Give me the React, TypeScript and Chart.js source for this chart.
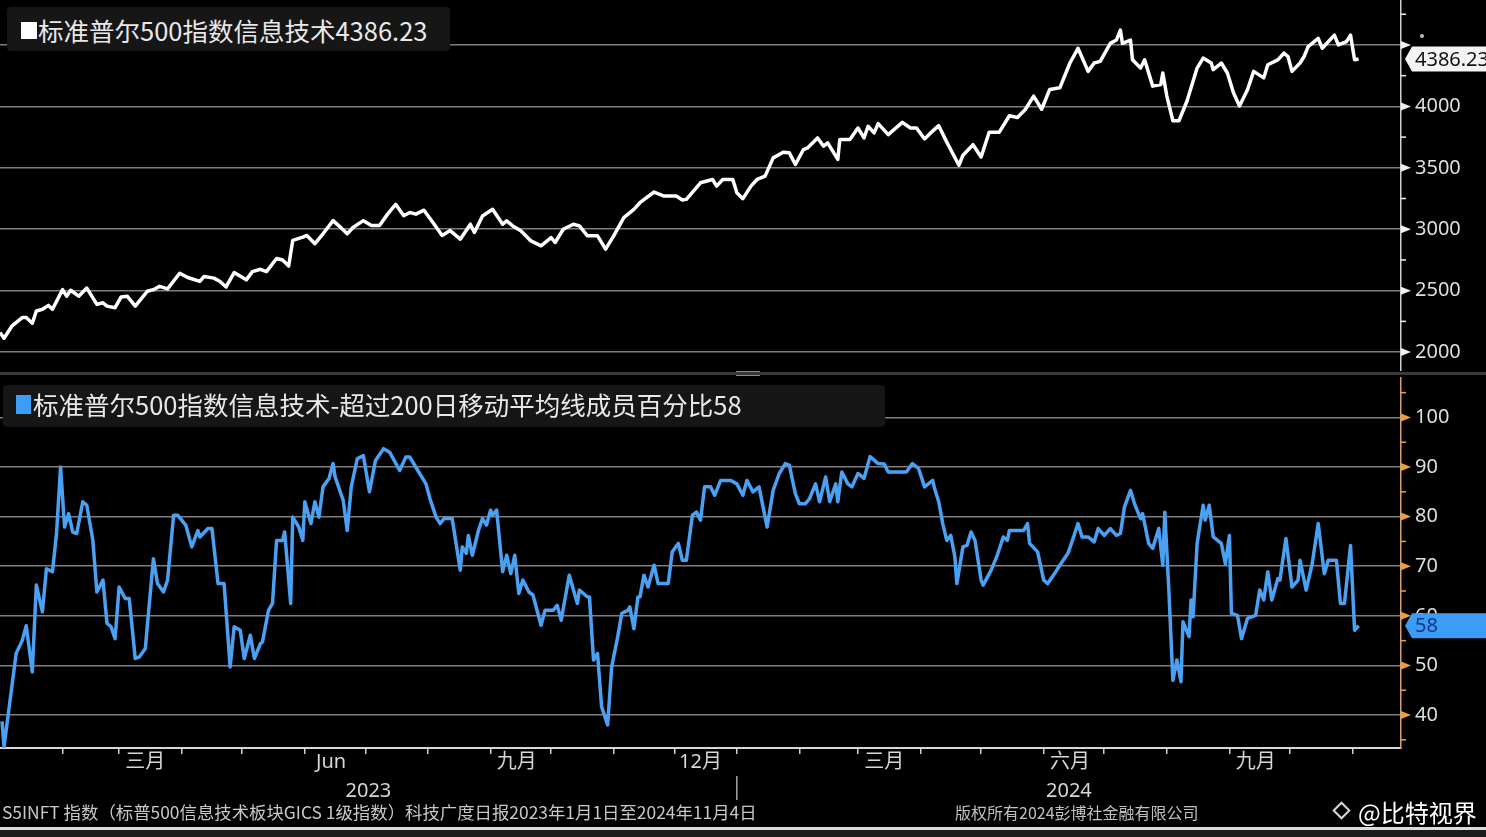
import React, { useEffect, useRef } from 'react';
import { Chart, registerables } from 'chart.js';

Chart.register(...registerables);

// ---------- texts ----------
const TOP_TITLE = '标准普尔500指数信息技术4386.23';
const BREADTH_TITLE = '标准普尔500指数信息技术-超过200日移动平均线成员百分比58';
const TOP_LAST_LABEL = '4386.23';
const BREADTH_LAST_LABEL = '58';
const FOOTER_LEFT = 'S5INFT 指数（标普500信息技术板块GICS 1级指数）科技广度日报2023年1月1日至2024年11月4日';
const FOOTER_RIGHT = '版权所有2024彭博社金融有限公司';
const WATERMARK = '@比特视界';

// ---------- data (x = days since 2023-01-01) ----------
const topDays = [
  0, 2, 6, 11, 13, 16, 18, 21, 24, 26, 31, 33, 35, 39, 43, 48, 51, 53, 57, 60,
  63, 67, 69, 73, 76, 79, 83, 89, 93, 99, 101, 106, 109, 112, 116, 122, 125, 129, 132, 137,
  140, 143, 145, 150, 152, 156, 160, 165, 169, 172, 175, 180, 184, 188, 192, 196, 200, 203, 206, 210,
  215, 219, 223,
  228, 233, 235, 239, 244, 249, 251, 254, 258, 263, 268, 273, 275, 279, 284, 287, 291, 296, 300, 304,
  309, 314, 317, 324, 329, 335, 338, 340, 347, 353, 355, 358, 363, 365, 368, 372, 375, 379, 383, 388,
  391, 394, 398, 400, 405, 408, 410, 415, 416, 421, 425, 428, 430, 433, 435, 440, 447, 451, 454, 458,
  461,
  465, 469, 475, 477, 482, 486, 490, 495, 500, 504, 508, 512, 516, 520, 525, 530, 534, 539, 542, 545,
  550, 553, 555, 556, 560, 561, 565, 567, 571, 575, 576, 578, 581, 584, 588, 593, 596, 600, 601, 605,
  608, 611, 614, 618, 621, 626, 628, 633, 636, 638, 640, 644, 646, 648, 653, 655, 661, 663, 667, 669,
  671, 673,
];
const topValues = [
  2160, 2112, 2214, 2281, 2281, 2235, 2334, 2348, 2380, 2348, 2508, 2455, 2503, 2455, 2521, 2388, 2401, 2374, 2361, 2449,
  2455, 2374, 2414, 2495, 2508, 2535, 2514, 2642, 2607, 2575, 2615, 2602, 2575, 2530, 2647, 2588, 2655, 2674, 2655, 2762,
  2749, 2700, 2909, 2936, 2949, 2882, 2963, 3070, 3011, 2963, 3016, 3070, 3030, 3030, 3123, 3203, 3110, 3136, 3123, 3155,
  3043, 2949, 2989,
  2919, 3041, 2973, 3108, 3162, 3041, 3068, 3027, 2987, 2905, 2865, 2932, 2892, 3000, 3041, 3027, 2946, 2946, 2838, 2946,
  3095, 3162, 3216, 3303, 3270, 3270, 3238, 3243, 3378, 3405, 3351, 3405, 3405, 3297, 3249, 3351, 3405, 3432, 3581, 3627,
  3622, 3527, 3649, 3662, 3743, 3676, 3703, 3568, 3730, 3730, 3824, 3743, 3838, 3784, 3860, 3770, 3870, 3824, 3824, 3735,
  3784,
  3843, 3709, 3521, 3602, 3688, 3588, 3790, 3790, 3924, 3910, 3977, 4084, 3977, 4138, 4151, 4353, 4473, 4285, 4353, 4366,
  4513, 4540, 4621, 4513, 4540, 4379, 4312, 4379, 4165, 4178, 4272, 4084, 3883, 3883, 4044, 4312, 4393, 4353, 4299, 4353,
  4272, 4111, 4004, 4138, 4285, 4232, 4339, 4379, 4433, 4406, 4285, 4353, 4406, 4487, 4554, 4473, 4580, 4500, 4527, 4580,
  4379, 4386.23,
];

const breadthDays = [
  1, 2, 5, 8, 11, 13, 16, 18, 21, 23, 26, 28, 30, 32, 34, 36, 38, 41, 43, 46,
  48, 51, 53, 55, 57, 59, 62, 64, 67, 69, 72, 73, 76, 78, 81, 83, 86, 88, 92, 95,
  98, 99, 103, 105, 108, 111, 114, 116, 119, 121, 124, 126, 129, 130, 133, 135, 137, 140, 141, 144,
  145, 148, 150, 151, 154, 156, 158, 160, 163, 165, 166, 170, 172, 174, 177, 180, 183, 186, 190, 193,
  198, 201, 203, 207, 211, 213, 216, 218, 220, 224, 228,
  229, 231, 232, 234, 237, 239, 241, 243, 244, 246, 249, 251, 253, 255, 257, 259, 262, 264, 268, 270,
  274, 276, 278, 282, 286, 287, 291, 292, 294, 296, 298, 301, 303, 306, 308, 311, 312, 314, 316, 317,
  319, 321, 324, 326, 331, 333, 336, 338, 340, 343, 345, 347, 349, 352, 354, 357, 362, 365, 368, 370,
  373, 376, 378, 380, 383, 386, 389, 391, 394, 396, 399, 401, 404, 406, 409, 411, 414, 415, 417, 420,
  422, 425, 428, 431, 435, 438, 440, 449, 452, 455, 458, 462, 463,
  465, 467, 469, 471, 473, 474, 477, 479, 481, 483, 486, 487, 491, 494, 497, 499, 500, 504, 507, 509,
  510, 514, 517, 519, 523, 525, 529, 531, 534, 536, 539, 542, 544, 547, 550, 553, 555, 557, 560, 562,
  565, 566, 569, 571, 574, 576, 577, 579, 581, 583, 585, 586, 589, 590, 591, 593, 596, 597, 599, 601,
  605, 607, 609, 610, 613, 615, 618, 622, 624, 626, 628, 630, 633, 634, 637, 640, 643, 644, 647, 650,
  653, 656, 658, 662, 664, 666, 669, 671, 673,
];
const breadthValues = [
  38.7, 33.6, 43, 52.4, 55, 58, 48.7, 66.2, 60.8, 69.5, 68.9, 76.6, 90, 77.9, 80.6, 76.9, 76.6, 83, 82.3, 75.2,
  64.8, 67.2, 58.5, 57.8, 55.4, 65.8, 63.5, 63.5, 51.4, 51.7, 53.4, 58.1, 71.5, 66.5, 64.8, 67.2, 80.3, 80.3, 78.3, 73.9,
  77.2, 75.9, 77.6, 77.6, 66.5, 66.5, 49.7, 57.8, 57.1, 51.4, 56.1, 51.4, 54.4, 54.7, 61.1, 62.5, 75.2, 75.2, 76.9, 62.5,
  79.9, 77.9, 75.2, 83, 78.6, 83, 79.9, 86, 87.7, 90.7, 88, 83.3, 77.2, 86, 91.7, 92.3, 85, 91.3, 93.7, 93,
  89.3, 92, 92, 89.3, 86.6, 83.6, 79.9, 78.6, 79.6, 79.6, 69.2,
  73.9, 72.6, 76.2, 72.2, 77.2, 79.6, 78.3, 81.3, 80.3, 81.3, 68.9, 72.2, 68.5, 72.2, 64.5, 67.2, 64.8, 64.2, 58.1, 61.1,
  61.1, 62.1, 59.1, 68.2, 62.5, 65.2, 63.8, 63.8, 51.1, 52.4, 41.7, 38, 49.7, 55.8, 60.5, 61.1, 61.8, 57.4, 63.8, 63.8,
  68.2, 65.8, 70.2, 66.5, 66.5, 72.9, 74.6, 71.2, 71.2, 80.3, 80.9, 79.3, 86, 86, 84.3, 87.3, 87.3, 86.6, 84.3, 87.3,
  85, 86, 81.9, 77.9, 85.3, 88.7, 90.7, 90.4, 84.6, 82.6, 82.6, 83.6, 86.6, 83, 88, 83, 86.6, 83, 89, 86.6,
  86, 88.7, 87.7, 92.1, 90.7, 90.6, 89, 89, 90.7, 89.7, 86, 87.3, 85.6,
  83, 78.6, 75.2, 76.2, 71.9, 66.5, 73.9, 74.2, 76.9, 75.2, 67.2, 66.2, 69.2, 72.2, 75.9, 75.2, 77.2, 77.2, 77.2, 78.6,
  74.6, 72.9, 67.2, 66.5, 68.9, 70.2, 72.6, 74.9, 78.6, 75.9, 75.9, 74.9, 77.6, 76.2, 77.6, 76.2, 76.6, 81.9, 85.3, 82.6,
  79.6, 80.6, 74.6, 73.6, 77.6, 70.2, 80.9, 65.2, 47, 51.1, 46.7, 58.8, 55.8, 63.2, 59.8, 74.6, 82.3, 79.3, 82.3, 75.9,
  74.6, 70.5, 76.2, 60.5, 60.1, 55.4, 59.5, 60.1, 65.2, 63.2, 68.9, 63.2, 67.5, 67.2, 75.6, 65.8, 67.2, 71.2, 65.2, 70.5,
  78.6, 68.5, 71.2, 71.2, 62.5, 62.5, 74.2, 57.1, 58,
];

// ---------- axes ----------
const X_MIN = 0;
const X_MAX = 694;
const TOP_MIN = 1850;
const TOP_MAX = 4862;
const BREADTH_MIN = 33.35;
const BREADTH_MAX = 108.05;

const topTickValues = [2000, 2250, 2500, 2750, 3000, 3250, 3500, 3750, 4000, 4250, 4500, 4750];
const topLabelValues = [2000, 2500, 3000, 3500, 4000];
const topMajorValues = [2000, 2500, 3000, 3500, 4000, 4500];

const breadthTickValues = [35, 40, 45, 50, 55, 60, 65, 70, 75, 80, 85, 90, 95, 100, 105];
const breadthLabelValues = [40, 50, 60, 70, 80, 90, 100];
const breadthMajorValues = [40, 50, 60, 70, 80, 90, 100];

const monthStartDays = [31, 59, 90, 120, 151, 181, 212, 243, 273, 304, 334, 365, 396, 425, 456, 486, 517, 547, 578, 609, 639, 670];
const monthLabelDays = [72, 164, 256, 347, 438, 530, 622];
const monthLabels = ['三月', 'Jun', '九月', '12月', '三月', '六月', '九月'];
const yearLabelDays = [182.5, 529.5];
const yearLabels = ['2023', '2024'];
const YEAR_BOUNDARY_DAY = 365;

const FONT = "'Noto Sans', 'Noto Sans CJK SC', sans-serif";
const CJK_FONT = "'Noto Sans CJK SC', 'Noto Sans', sans-serif";

function makeAxisDecor(cfg: {
  id: string;
  major: number[];
  minor: number[];
  markColor: string;
  lastValue: number;
  lastLabel: string;
  boxFill: string;
  boxText: string;
  yearBoundary?: number;
}) {
  return {
    id: cfg.id,
    afterDraw(chart: any) {
      const { ctx, chartArea, width } = chart;
      const ys = chart.scales.y;
      const right = chartArea.right;
      ctx.save();
      ctx.fillStyle = cfg.markColor;
      for (const v of cfg.major) {
        const py = ys.getPixelForValue(v);
        ctx.beginPath();
        ctx.moveTo(right, py - 4);
        ctx.lineTo(right + 10, py);
        ctx.lineTo(right, py + 4);
        ctx.closePath();
        ctx.fill();
      }
      for (const v of cfg.minor) {
        if (cfg.major.includes(v)) continue;
        const py = ys.getPixelForValue(v);
        ctx.fillRect(right, py - 0.75, 5, 1.5);
      }
      // last value box
      const py = ys.getPixelForValue(cfg.lastValue);
      ctx.fillStyle = cfg.boxFill;
      ctx.beginPath();
      ctx.moveTo(right + 4, py);
      ctx.lineTo(right + 11, py - 12.5);
      ctx.lineTo(width, py - 12.5);
      ctx.lineTo(width, py + 12.5);
      ctx.lineTo(right + 11, py + 12.5);
      ctx.closePath();
      ctx.fill();
      ctx.fillStyle = cfg.boxText;
      ctx.font = `20px ${FONT}`;
      ctx.textBaseline = 'middle';
      ctx.textAlign = 'left';
      ctx.fillText(cfg.lastLabel, right + 14, py + 1);
      if (cfg.yearBoundary !== undefined) {
        const xs = chart.scales.x;
        const px = xs.getPixelForValue(cfg.yearBoundary);
        ctx.strokeStyle = '#a8a8a8';
        ctx.lineWidth = 1.5;
        ctx.beginPath();
        ctx.moveTo(px, xs.top + 28);
        ctx.lineTo(px, xs.top + 52);
        ctx.stroke();
      }
      ctx.restore();
    },
  };
}

export default function App() {
  const topRef = useRef<HTMLCanvasElement>(null);
  const botRef = useRef<HTMLCanvasElement>(null);

  useEffect(() => {
    document.body.style.margin = '0';
    document.body.style.background = '#000';

    const topTicksAll = [TOP_MIN, ...topTickValues, TOP_MAX];
    const top = new Chart(topRef.current as HTMLCanvasElement, {
      type: 'line',
      data: {
        datasets: [
          {
            data: topDays.map((d, i) => ({ x: d, y: topValues[i] })),
            borderColor: '#ffffff',
            borderWidth: 3.5,
            pointRadius: 0,
            tension: 0,
            borderJoinStyle: 'round',
          },
        ],
      },
      options: {
        animation: false,
        responsive: false,
        devicePixelRatio: 1,
        layout: { padding: 0, autoPadding: false },
        plugins: { legend: { display: false }, tooltip: { enabled: false } },
        scales: {
          x: { type: 'linear', min: X_MIN, max: X_MAX, display: false },
          y: {
            position: 'right',
            min: TOP_MIN,
            max: TOP_MAX,
            bounds: 'data',
            afterBuildTicks: (s: any) => {
              s.ticks = topTicksAll.map((v) => ({ value: v }));
            },
            afterFit: (s: any) => {
              s.width = 85;
            },
            ticks: {
              autoSkip: false,
              padding: 0,
              color: '#dedede',
              font: { size: 20, family: FONT, lineHeight: 0.05 },
              callback: (v: any, i: number) => {
                if (i === 0 || i === topTicksAll.length - 1) return null;
                return topLabelValues.includes(v) ? String(v) : '';
              },
            },
            grid: {
              color: (c: any) => (c.tick && topMajorValues.includes(c.tick.value) ? '#7e7e7e' : 'transparent'),
              lineWidth: 1.5,
              drawTicks: true,
              tickLength: 14,
              tickColor: 'transparent',
            },
            border: { color: '#d0d0d0', width: 1.5 },
          },
        },
      } as any,
      plugins: [
        makeAxisDecor({
          id: 'topDecor',
          major: topMajorValues,
          minor: topTickValues,
          markColor: '#f0f0f0',
          lastValue: topValues[topValues.length - 1],
          lastLabel: TOP_LAST_LABEL,
          boxFill: '#f4f4f4',
          boxText: '#111111',
        }),
      ],
    });

    const bTicksAll = [BREADTH_MIN, ...breadthTickValues, BREADTH_MAX];
    const xLabelMap = new Map<number, any>();
    monthStartDays.forEach((d) => xLabelMap.set(d, ''));
    monthLabelDays.forEach((d, i) => xLabelMap.set(d, monthLabels[i]));
    yearLabelDays.forEach((d, i) => xLabelMap.set(d, ['', yearLabels[i]]));
    const xTickValues = [X_MIN, ...Array.from(xLabelMap.keys()).sort((a, b) => a - b), X_MAX];

    const bot = new Chart(botRef.current as HTMLCanvasElement, {
      type: 'line',
      data: {
        datasets: [
          {
            data: breadthDays.map((d, i) => ({ x: d, y: breadthValues[i] })),
            borderColor: '#4aa0f2',
            borderWidth: 3.5,
            pointRadius: 0,
            tension: 0,
            borderJoinStyle: 'round',
          },
        ],
      },
      options: {
        animation: false,
        responsive: false,
        devicePixelRatio: 1,
        layout: { padding: 0, autoPadding: false },
        plugins: { legend: { display: false }, tooltip: { enabled: false } },
        scales: {
          x: {
            type: 'linear',
            position: 'bottom',
            min: X_MIN,
            max: X_MAX,
            bounds: 'data',
            afterBuildTicks: (s: any) => {
              s.ticks = xTickValues.map((v) => ({ value: v }));
            },
            afterFit: (s: any) => {
              s.height = 89;
            },
            ticks: {
              autoSkip: false,
              maxRotation: 0,
              minRotation: 0,
              padding: -6,
              color: '#d6d6d6',
              font: { size: 20, family: FONT, lineHeight: 1.45 },
              callback: (v: any, i: number) => {
                if (i === 0 || i === xTickValues.length - 1) return null;
                const l = xLabelMap.get(v);
                return l === undefined ? '' : l;
              },
            },
            grid: {
              drawOnChartArea: false,
              drawTicks: true,
              tickLength: 6,
              lineWidth: 1.5,
              color: 'transparent',
              tickColor: (c: any) => (c.tick && monthStartDays.includes(c.tick.value) ? '#cfcfcf' : 'transparent'),
            },
            border: { color: '#d8d8d8', width: 2 },
          },
          y: {
            position: 'right',
            min: BREADTH_MIN,
            max: BREADTH_MAX,
            bounds: 'data',
            afterBuildTicks: (s: any) => {
              s.ticks = bTicksAll.map((v) => ({ value: v }));
            },
            afterFit: (s: any) => {
              s.width = 85;
            },
            ticks: {
              autoSkip: false,
              padding: 0,
              color: '#dedede',
              font: { size: 20, family: FONT, lineHeight: 0.05 },
              callback: (v: any, i: number) => {
                if (i === 0 || i === bTicksAll.length - 1) return null;
                return breadthLabelValues.includes(v) ? String(v) : '';
              },
            },
            grid: {
              color: (c: any) => (c.tick && breadthMajorValues.includes(c.tick.value) ? '#7e7e7e' : 'transparent'),
              lineWidth: 1.5,
              drawTicks: true,
              tickLength: 14,
              tickColor: 'transparent',
            },
            border: { color: '#d6a070', width: 1.5 },
          },
        },
      } as any,
      plugins: [
        makeAxisDecor({
          id: 'botDecor',
          major: breadthMajorValues,
          minor: breadthTickValues,
          markColor: '#f0a033',
          lastValue: breadthValues[breadthValues.length - 1],
          lastLabel: BREADTH_LAST_LABEL,
          boxFill: '#3d9cf5',
          boxText: '#0e3a80',
          yearBoundary: YEAR_BOUNDARY_DAY,
        }),
      ],
    });

    return () => {
      top.destroy();
      bot.destroy();
    };
  }, []);

  const abs = (s: React.CSSProperties): React.CSSProperties => ({ position: 'absolute', ...s });

  return (
    <div
      style={{
        position: 'fixed',
        left: 0,
        top: 0,
        width: 1486,
        height: 837,
        background: '#000',
        overflow: 'hidden',
        fontFamily: CJK_FONT,
      }}
    >
      <canvas ref={topRef} width={1486} height={371} style={abs({ left: 0, top: 0, width: 1486, height: 371 })} />
      <div style={abs({ left: 0, top: 372, width: 1486, height: 3, background: '#3a3a3a' })} />
      <div style={abs({ left: 736, top: 371, width: 24, height: 5, borderTop: '1px solid #8a8a8a', borderBottom: '1px solid #8a8a8a', boxSizing: 'border-box' })} />
      <canvas ref={botRef} width={1486} height={460} style={abs({ left: 0, top: 377, width: 1486, height: 460 })} />

      {/* top legend */}
      <div style={abs({ left: 7, top: 7, width: 443, height: 44, background: '#161616', borderRadius: 4 })} />
      <div style={abs({ left: 21, top: 22, width: 16, height: 17, background: '#ffffff' })} />
      <div style={abs({ left: 38, top: 14, fontSize: 25.5, lineHeight: '32px', color: '#e8e8e8', whiteSpace: 'nowrap' })}>
        {TOP_TITLE}
      </div>
      <div style={abs({ left: 1420, top: 34, width: 4, height: 4, borderRadius: 2, background: '#bbbbbb' })} />

      {/* bottom legend */}
      <div style={abs({ left: 3, top: 385, width: 882, height: 42, background: '#161616', borderRadius: 4 })} />
      <div style={abs({ left: 16, top: 395, width: 15, height: 19, background: '#3d9cf5' })} />
      <div style={abs({ left: 33, top: 388, fontSize: 25.5, lineHeight: '32px', color: '#e8e8e8', whiteSpace: 'nowrap' })}>
        {BREADTH_TITLE}
      </div>

      {/* footer */}
      <div style={abs({ left: 2, top: 802, fontSize: 17.4, lineHeight: '20px', color: '#c8c8c8', whiteSpace: 'nowrap' })}>
        {FOOTER_LEFT}
      </div>
      <div style={abs({ left: 955, top: 802, fontSize: 16, lineHeight: '20px', color: '#c0c0c0', whiteSpace: 'nowrap' })}>
        {FOOTER_RIGHT}
      </div>
      <div style={abs({ left: 1335, top: 804, width: 13, height: 13, border: '2px solid #d8d8d8', transform: 'rotate(45deg)', boxSizing: 'border-box' })} />
      <div style={abs({ left: 1358, top: 798, fontSize: 24, lineHeight: '28px', color: '#ffffff', whiteSpace: 'nowrap' })}>
        {WATERMARK}
      </div>

      <div style={abs({ left: 0, top: 827, width: 1486, height: 3, background: '#dcdcdc' })} />
      <div style={abs({ left: 0, top: 830, width: 1486, height: 7, background: '#1c1c1c' })} />
    </div>
  );
}
